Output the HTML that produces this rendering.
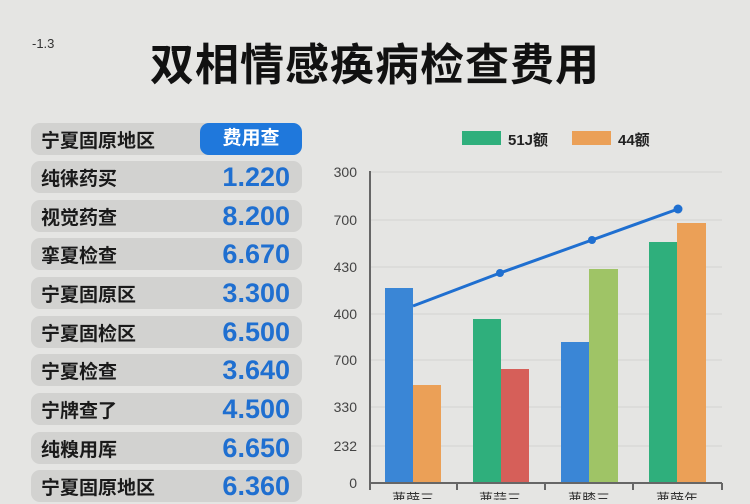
<!DOCTYPE html>
<html><head><meta charset="utf-8"><style>
body{margin:0;width:750px;height:500px;overflow:hidden;background:#e5e5e3;font-family:"Liberation Sans","Noto Sans CJK SC",sans-serif;position:relative}
.t{position:absolute;left:0;width:750px;top:36px;text-align:center;font-size:44px;line-height:60px;font-weight:bold;color:#111;letter-spacing:1px}
.s{position:absolute;left:32px;top:36px;font-size:13px;color:#333}
.r{position:absolute;left:31px;width:271px;height:32px;background:#d2d2d0;border-radius:9px}
.r .a{position:absolute;left:10px;top:3px;line-height:31px;font-size:19px;font-weight:bold;color:#1a1a1a}
.r .b{position:absolute;right:12px;top:0;line-height:32px;font-size:27px;font-weight:bold;color:#1f6fd0}
.h{position:absolute;left:200px;top:123px;width:102px;height:32px;background:#1f78dc;border-radius:9px;color:#fff;font-size:19px;font-weight:bold;text-align:center;line-height:32px}
</style></head><body>
<div class="s">-1.3</div>
<div class="t">双相情感痪病检查费用</div>
<div class="r" style="top:123px"><span class="a">宁夏固原地区</span></div>
<div class="h">费用查</div>
<div class="r" style="top:161px"><span class="a">纯徕药买</span><span class="b">1.220</span></div>
<div class="r" style="top:200px"><span class="a">视觉药查</span><span class="b">8.200</span></div>
<div class="r" style="top:238px"><span class="a">挛夏检查</span><span class="b">6.670</span></div>
<div class="r" style="top:277px"><span class="a">宁夏固原区</span><span class="b">3.300</span></div>
<div class="r" style="top:316px"><span class="a">宁夏固检区</span><span class="b">6.500</span></div>
<div class="r" style="top:354px"><span class="a">宁夏检查</span><span class="b">3.640</span></div>
<div class="r" style="top:393px"><span class="a">宁牌查了</span><span class="b">4.500</span></div>
<div class="r" style="top:432px"><span class="a">纯糗用厍</span><span class="b">6.650</span></div>
<div class="r" style="top:470px"><span class="a">宁夏固原地区</span><span class="b">6.360</span></div>
<svg width="750" height="500" style="position:absolute;left:0;top:0" font-family="Liberation Sans, Noto Sans CJK SC, sans-serif">
<g stroke="#d4d4d2" stroke-width="1">
<line x1="370" x2="722" y1="172" y2="172"/><line x1="370" x2="722" y1="220" y2="220"/><line x1="370" x2="722" y1="267" y2="267"/><line x1="370" x2="722" y1="314" y2="314"/><line x1="370" x2="722" y1="360" y2="360"/><line x1="370" x2="722" y1="407" y2="407"/><line x1="370" x2="722" y1="446" y2="446"/>
</g>
<g font-size="14" fill="#444" text-anchor="end">
<text x="357" y="177">300</text><text x="357" y="225">700</text><text x="357" y="272">430</text><text x="357" y="319">400</text><text x="357" y="365">700</text><text x="357" y="412">330</text><text x="357" y="451">232</text><text x="357" y="488">0</text>
</g>
<rect x="385" y="288" width="28" height="195" fill="#3a86d6"/>
<rect x="413" y="385" width="28" height="98" fill="#eba057"/>
<rect x="473" y="319" width="28" height="164" fill="#2faf7c"/>
<rect x="501" y="369" width="28" height="114" fill="#d65f59"/>
<rect x="561" y="342" width="28" height="141" fill="#3a86d6"/>
<rect x="589" y="269" width="29" height="214" fill="#9fc466"/>
<rect x="649" y="242" width="28" height="241" fill="#2faf7c"/>
<rect x="677" y="223" width="29" height="260" fill="#eba057"/>
<polyline points="413,306 500,273 592,240 678,209" fill="none" stroke="#1f6fd0" stroke-width="3"/>
<circle cx="500" cy="273" r="4" fill="#1f6fd0"/><circle cx="592" cy="240" r="4" fill="#1f6fd0"/><circle cx="678" cy="209" r="4.5" fill="#1f6fd0"/>
<g stroke="#666" stroke-width="2"><line x1="370" y1="171" x2="370" y2="484"/><line x1="369" y1="483" x2="722" y2="483"/>
<line x1="370" y1="483" x2="370" y2="490"/><line x1="457" y1="483" x2="457" y2="490"/><line x1="545" y1="483" x2="545" y2="490"/><line x1="633" y1="483" x2="633" y2="490"/><line x1="722" y1="483" x2="722" y2="490"/></g>
<g font-size="14" fill="#333" text-anchor="middle"><text x="413" y="504">茀薜三</text><text x="500" y="504">茀蒜三</text><text x="589" y="504">茀膝三</text><text x="677" y="504">茀薜年</text></g>
<rect x="462" y="131" width="39" height="14" fill="#2faf7c"/>
<text x="508" y="145" font-size="15" font-weight="bold" fill="#222">51J额</text>
<rect x="572" y="131" width="39" height="14" fill="#eba057"/>
<text x="618" y="145" font-size="15" font-weight="bold" fill="#222">44额</text>
</svg>
</body></html>
